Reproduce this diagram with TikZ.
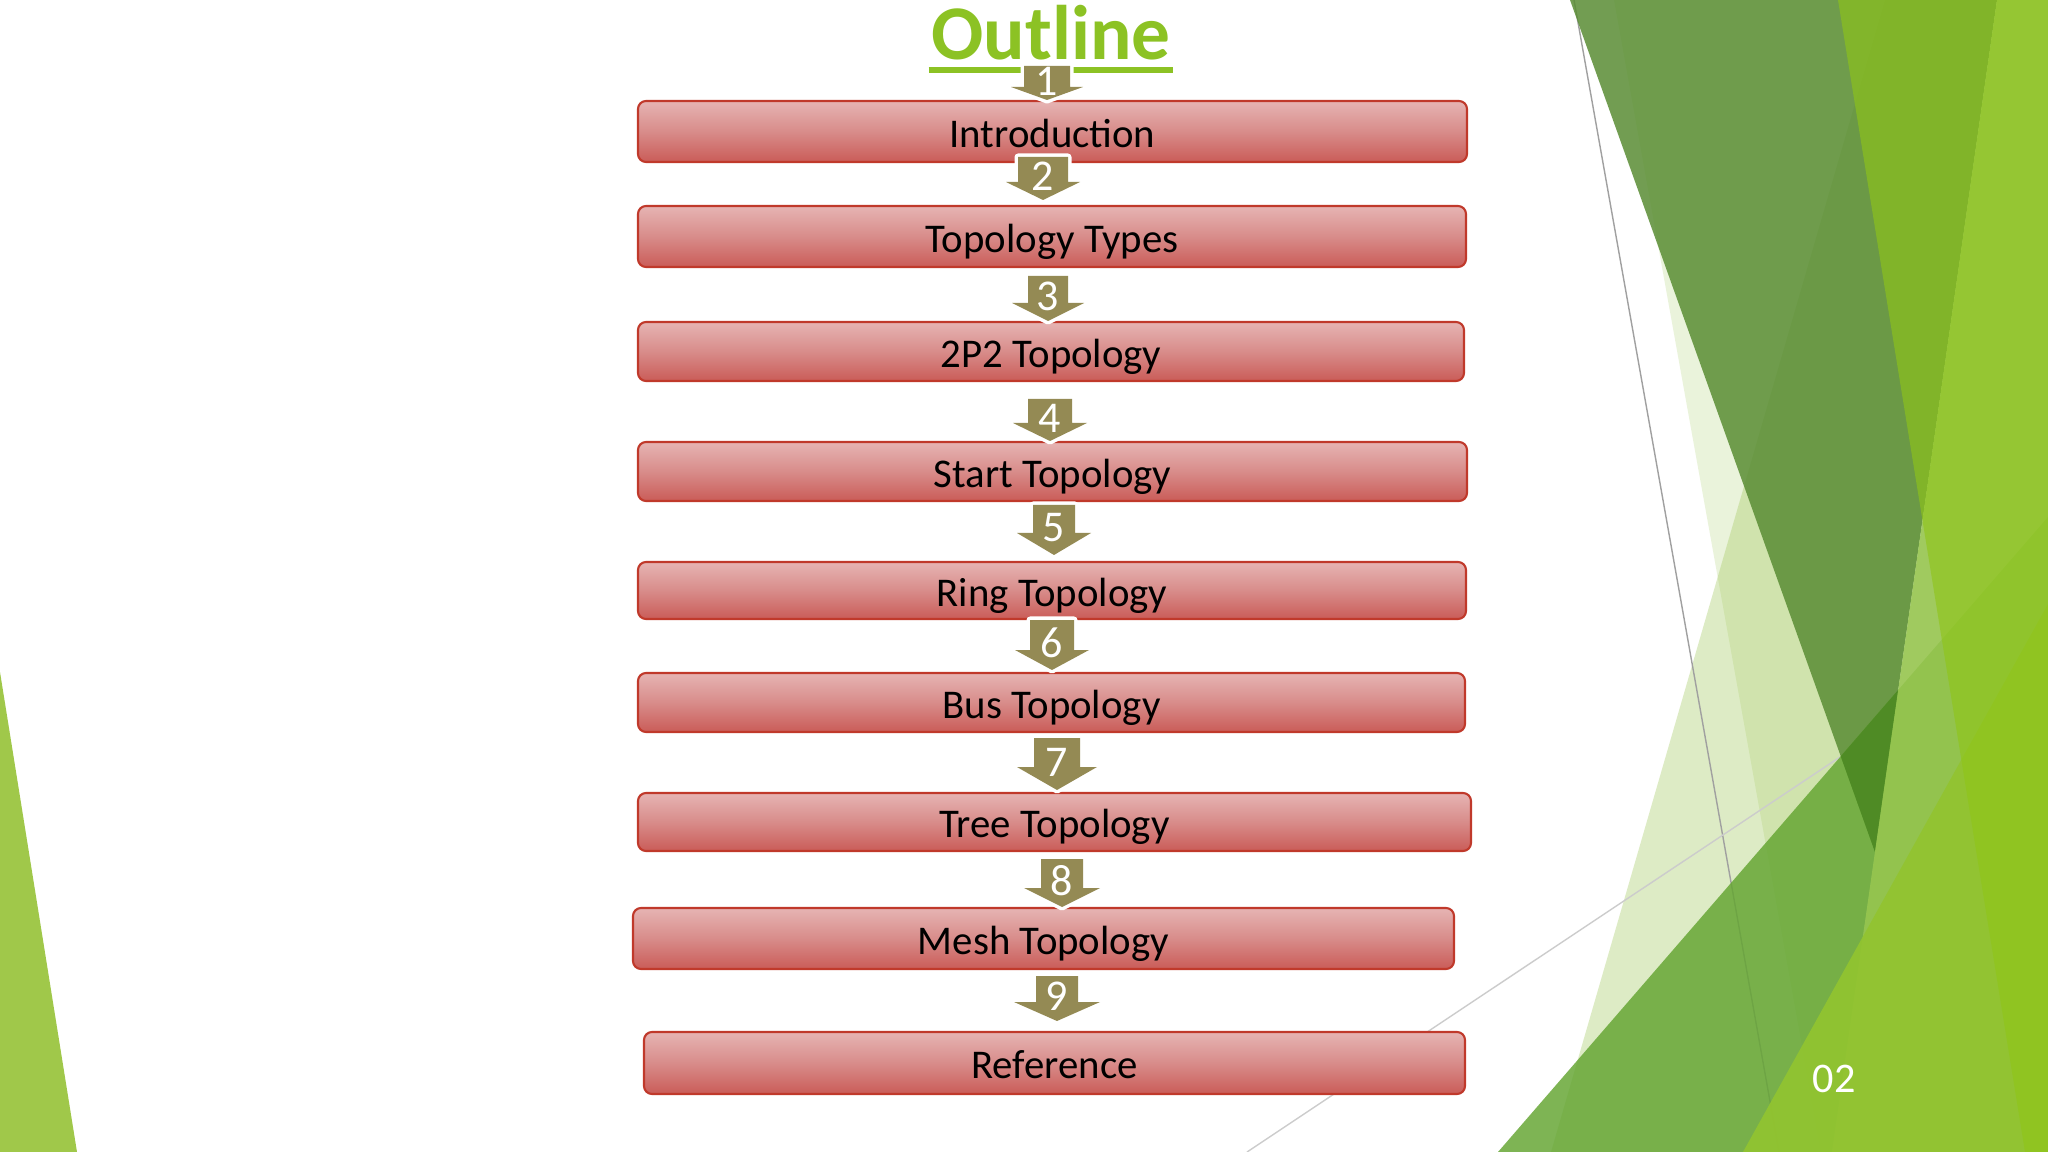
\documentclass[tikz,border=0pt]{standalone}
\usepackage{fontspec}
\setmainfont{Carlito}
\usepackage{tikz}
\usetikzlibrary{calc}
\usepackage{xcolor}
\definecolor{titlegreen}{HTML}{8CC224}
\definecolor{boxtop}{HTML}{E6B4B3}
\definecolor{boxmid}{HTML}{D88C8A}
\definecolor{boxbot}{HTML}{CA5C58}
\definecolor{boxline}{HTML}{C0392B}
\definecolor{arrowol}{HTML}{948A54}
\definecolor{leafgreen}{HTML}{A0C84A}
\definecolor{palee}{HTML}{EAF3DB}
\definecolor{palef}{RGB}{160,200,90}
\definecolor{darkd}{RGB}{90,141,52}
\definecolor{midm}{RGB}{100,165,50}
\definecolor{deepdm}{HTML}{4F8B25}
\definecolor{bandq}{RGB}{150,197,78}
\definecolor{brighty}{RGB}{146,196,48}
\definecolor{bandp}{RGB}{143,197,24}
\definecolor{thinline}{HTML}{A0A0A0}

\begin{document}
\begin{tikzpicture}[
        x = 0.01cm, y = -0.01cm,
        topicbox/.style = {draw=boxline, line width=0.6pt, rounded corners=0.08cm,
            top color=boxtop, bottom color=boxbot, middle color=boxmid,
            font=\fontsize{11.6}{14}\selectfont, text height=1.1em, text depth=0.2em, inner sep=0pt},
        numarrow/.style = {fill=arrowol, preaction={draw=white, line width=0.07cm, line join=round}},
        numtext/.style = {text=white, inner sep=0pt, font=\fontsize{12.5}{14}\selectfont}
        ]
        \useasboundingbox (0,0) rectangle (2048,1152);
        \fill[white] (0,0) rectangle (2048,1152);

        % background facets
        \fill[leafgreen] (0,672) -- (77,1152) -- (0,1152) -- cycle;
        \fill[palee] (1614,0) -- (1997,0) -- (1832,1152) -- (1821,1152) -- cycle;
        \fill[palef, opacity=0.35] (1885,0) -- (1997,0) -- (1832,1152) -- (1551,1152) -- cycle;
        \draw[thinline, line width=0.4pt] (1574,0) -- (1779,1152);
        \draw[gray!40, line width=0.4pt] (1247,1152) -- (1840,757);
        \fill[darkd, opacity=0.85] (1570,0) -- (1997,0) -- (1875,852) -- cycle;
        \fill[midm, opacity=0.83] (1498,1152) -- (2048,517) -- (2048,1152) -- cycle;
        \begin{scope}
            \clip (1570,0) -- (1997,0) -- (1875,852) -- cycle;
            \fill[deepdm] (1498,1152) -- (2048,517) -- (2048,1152) -- cycle;
        \end{scope}
        \fill[bandq, opacity=0.9] (1997,0) -- (2048,0) -- (2048,1152) -- (1832,1152) -- cycle;
        \fill[brighty, opacity=0.92] (1743,1152) -- (2048,604) -- (2048,1152) -- cycle;
        \fill[bandp, opacity=0.62] (1838,0) -- (2048,0) -- (2048,1152) -- (2025,1152) -- cycle;

        % title
        \node[text=titlegreen, font=\bfseries\fontsize{22}{26}\selectfont, inner sep=0pt, anchor=base] (title) at (1051,60) {Outline};
        \draw[titlegreen, line width=0.06cm] ($(title.base west)+(-2,10)$) -- ($(title.base east)+(2,10)$);

        % topic boxes
        \foreach \l/\t/\r/\b/\txt [count=\i] in {
            638/101/1467/162/Introduction,
            638/206/1466/267/Topology Types,
            638/322/1464/381/2P2 Topology,
            638/442/1467/501/Start Topology,
            638/562/1466/619/Ring Topology,
            638/673/1465/732/Bus Topology,
            638/793/1471/851/Tree Topology,
            633/908/1454/969/Mesh Topology,
            644/1032/1465/1094/Reference}
        {
            \node[topicbox, minimum width={(\r-\l)*0.01cm}, minimum height={(\b-\t)*0.01cm}]
                (box\i) at ({(\l+\r)/2},{(\t+\b)/2}) {\txt};
        }

        % numbered arrows
        \foreach \cx/\t/\b/\p/\s/\h [count=\i] in {
            1047/66/87/100/23/36,
            1043/157/182/200/25/37,
            1048/276/303/321/20/36,
            1050/399/423/441/22/37,
            1054/505/533/555/21/37,
            1052/620/650/670/22/37,
            1057/738/767/790/23/40,
            1062/859/888/907/21/38,
            1057/976/1002/1021/21/43}
        {
            \fill[numarrow] (\cx-\s,\t) -- (\cx+\s,\t) -- (\cx+\s,\b) -- (\cx+\h,\b)
                -- (\cx,\p) -- (\cx-\h,\b) -- (\cx-\s,\b) -- cycle;
            \node[numtext] (num\i) at (\cx,{(\t+\p)/2-2}) {\i};
        }

        \node[text=white, font=\fontsize{12}{14}\selectfont, inner sep=0pt] (pagenum) at (1834,1079) {02};
\end{tikzpicture}
\end{document}
